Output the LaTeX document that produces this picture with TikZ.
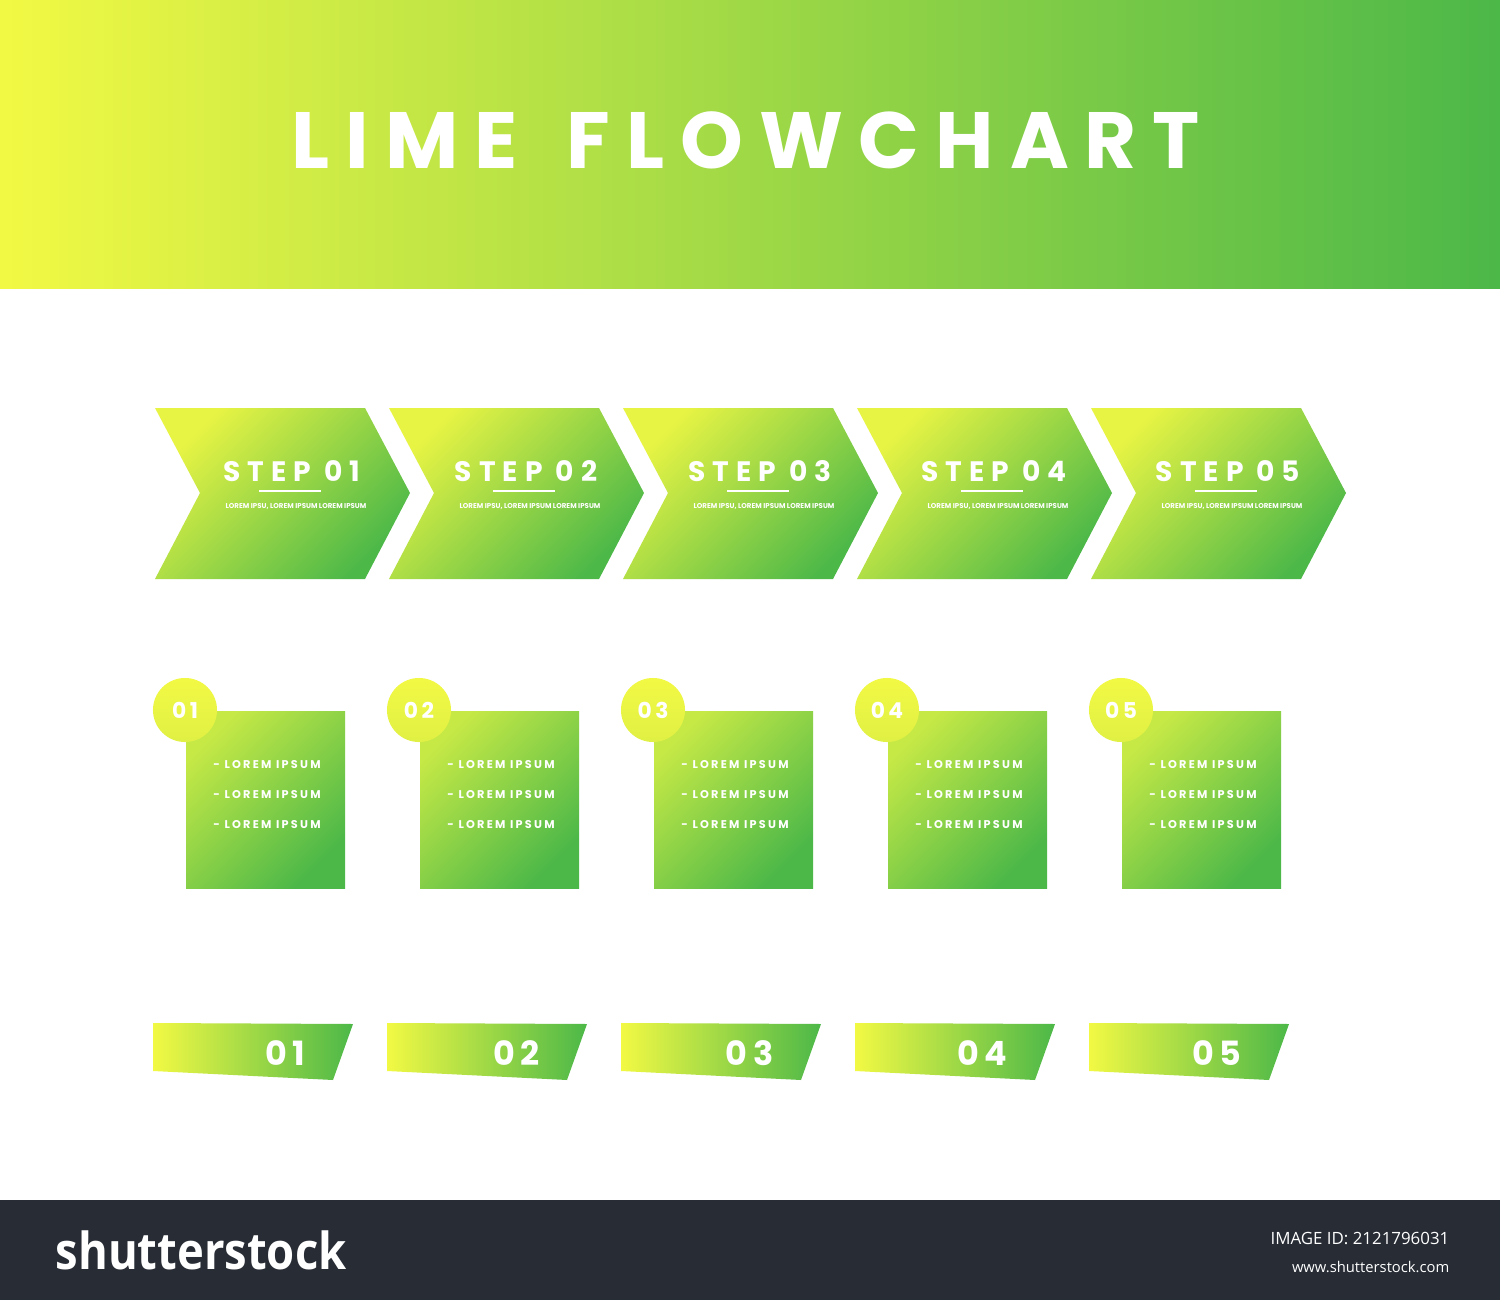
\documentclass[tikz,border=0pt]{standalone}
\usepackage{fontspec}
\setmainfont{Poppins}
\newfontfamily\headfont[LetterSpace=20]{Poppins}
\newfontfamily\stepfont[LetterSpace=25]{Poppins}
\newfontfamily\numfont[LetterSpace=16]{Poppins}
\newfontfamily\itemfont[LetterSpace=20]{Poppins}
\newfontfamily\barfont{Open Sans}
\usetikzlibrary{positioning,calc}

\definecolor{lemon}{HTML}{F2F944}
\definecolor{lemonsoft}{HTML}{E8F444}
\definecolor{limebox}{HTML}{C6E946}
\definecolor{leaf}{HTML}{4CB848}
\definecolor{dotlime}{HTML}{E0F044}
\definecolor{barbg}{HTML}{272C35}

\tikzset{
        headband/.style={left color=lemon, right color=leaf},
        chevfill/.style={top color=lemonsoft, bottom color=leaf, shading angle=45},
        boxfill/.style={top color=limebox, bottom color=leaf, shading angle=45},
        tagfill/.style={left color=lemon, right color=leaf},
        numdot/.style={circle, minimum size=0.64cm, inner sep=0pt, top color=lemon, bottom color=dotlime,
                text=white, font=\numfont\bfseries\fontsize{6.2}{7}\selectfont},
        steptitle/.style={text=white, inner sep=0pt, font=\stepfont\bfseries\fontsize{8}{9}\selectfont},
        steptext/.style={text=white, inner sep=0pt, font=\bfseries\fontsize{2}{3}\selectfont},
        stepline/.style={white, line width=0.6pt},
        itemtext/.style={text=white, inner sep=0pt, font=\itemfont\bfseries\fontsize{3.2}{4}\selectfont},
        tagnum/.style={text=white, inner sep=0pt, anchor=east, font=\numfont\bfseries\fontsize{9.5}{11}\selectfont}
}

\begin{document}
\begin{tikzpicture}[x=0.01cm, y=-0.01cm]
        \fill[white] (0,0) rectangle (1500,1300);
        \useasboundingbox (0,0) rectangle (1500,1300);

        % header
        \shade[headband] (0,0) rectangle (1500,288);
        \node[text=white, inner sep=0pt, font=\headfont\bfseries\fontsize{22.7}{26}\selectfont] (title) at (746,140) {LIME \hspace{0.2em}FLOWCHART};

        % steps
        \foreach \i in {1,...,5} {
            \pgfmathsetmacro\xo{155+234*(\i-1)}
            \shade[chevfill] (\xo,408) -- ++(210,0) -- ++(45,85) -- ++(-45,86) -- ++(-210,0) -- ++(45,-86) -- cycle;
            \node[steptitle] (step\i) at (\xo+137,471) {STEP 0\i};
            \draw[stepline] (\xo+104,491) -- (\xo+166,491);
            \node[steptext] (stepnote\i) at (\xo+141,506) {LOREM IPSU, LOREM IPSUM LOREM IPSUM};
        }

        % boxes
        \foreach \i in {1,...,5} {
            \pgfmathsetmacro\bx{186+234*(\i-1)}
            \shade[boxfill] (\bx,711) rectangle ++(159,177);
            \node[numdot] (dot\i) at (\bx-1,710) {0\i};
            \foreach \j/\yy in {1/765,2/795,3/825} {
                \node[itemtext] (item\i\j) at (\bx+81,\yy) {- LOREM IPSUM};
            }
        }

        % tags
        \foreach \i in {1,...,5} {
            \pgfmathsetmacro\tx{153+234*(\i-1)}
            \shade[tagfill] (\tx,1023) -- ++(200,1) -- ++(-20,56) -- ++(-180,-9) -- cycle;
            \node[tagnum] (tag\i) at (\tx+153,1053) {0\i};
        }

        % bottom bar
        \fill[barbg] (0,1200) rectangle (1500,1300);
        \node[text=white, inner sep=0pt, anchor=west, font=\barfont\bfseries\fontsize{14.5}{16}\selectfont] (brand) at (55,1250) {\scalebox{0.89}[1]{shutterstock}};
        \node[text=white, inner sep=0pt, anchor=east, font=\barfont\fontsize{4.8}{6}\selectfont] (imgid) at (1450,1238) {IMAGE ID: 2121796031};
        \node[text=white, inner sep=0pt, anchor=east, font=\barfont\fontsize{4.2}{5}\selectfont] (site) at (1450,1267) {www.shutterstock.com};
\end{tikzpicture}
\end{document}
